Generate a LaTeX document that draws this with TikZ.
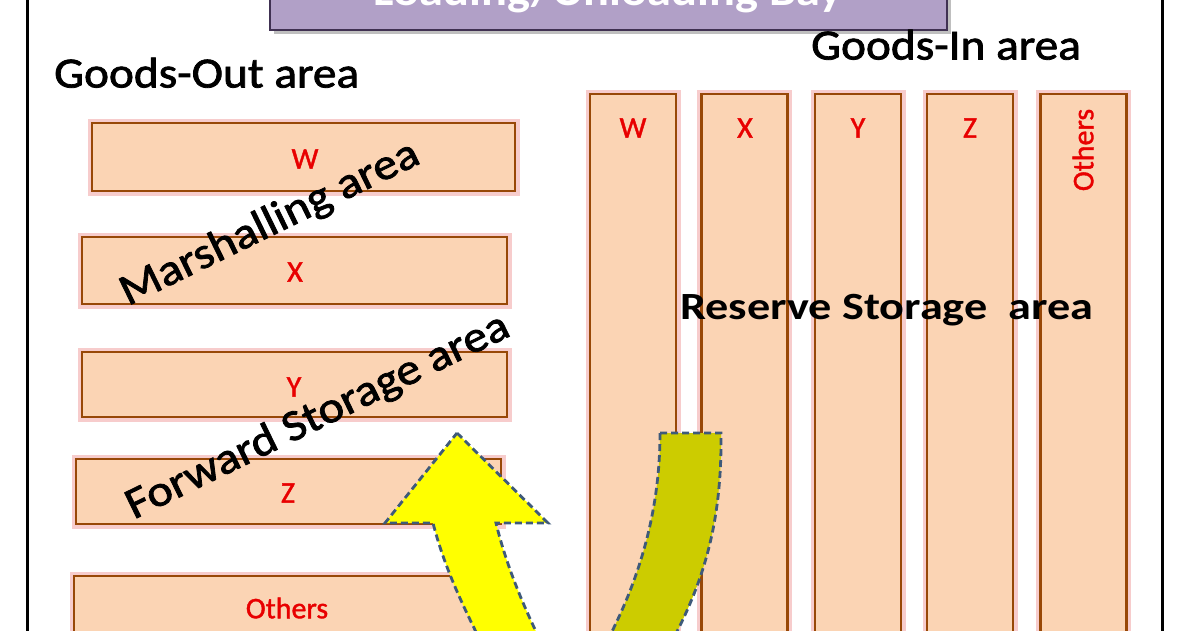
\documentclass[tikz,border=0pt]{standalone}
\usepackage{fontspec}
\setmainfont{Carlito}[FakeBold=1.3]
\newfontfamily\fA{Carlito}[FakeStretch=1.1, FakeBold=1.8]
\newfontfamily\fB{Carlito Bold}[FakeStretch=1.1]
\newfontfamily\fR{Carlito Bold}[FakeStretch=1.2]
\definecolor{peach}{HTML}{FBD4B4}
\definecolor{brownb}{HTML}{984807}
\definecolor{glowc}{HTML}{F09A9A}
\definecolor{lav}{HTML}{B1A0C7}
\definecolor{lavb}{HTML}{403152}
\definecolor{yel}{HTML}{FFFF00}
\definecolor{olivec}{HTML}{CCCC00}
\definecolor{dashc}{HTML}{3E5A7A}
\definecolor{redt}{HTML}{E80000}
\begin{document}
\begin{tikzpicture}[x=1pt,y=-1pt,
  box/.style={rectangle, draw=brownb, line width=2.7pt, fill=peach, inner sep=0pt,
    preaction={draw=glowc, line width=9pt, draw opacity=0.5}},
  lbl/.style={text=redt, font=\fontsize{30}{30}\selectfont, inner sep=0pt},
  big/.style={font=\fA\fontsize{43}{43}\selectfont, inner sep=0pt},
  arrowshape/.style={draw=dashc, line width=2.8pt, dash pattern=on 7pt off 4pt, line join=miter}]
\useasboundingbox (0,0) rectangle (1200,630);
\clip (0,0) rectangle (1200,630);
\fill[white] (0,0) rectangle (1200,630);
% frame
\draw[line width=3pt] (27,-10) -- (27,640);
\draw[line width=3pt] (1162.5,-10) -- (1162.5,640);
% loading bay
\fill[black, opacity=0.25] (274,-20) rectangle (951,34);
\node[draw=lavb, line width=2.5pt, fill=lav, minimum width=677pt, minimum height=60pt, inner sep=0pt] (bay) at (608.5,0) {};
\node[text=white, font=\fB\fontsize{44}{44}\selectfont, anchor=base, inner sep=0pt] (baytxt) at (608,5) {Loading/Unloading Bay};
% titles
\node[big, anchor=base west] (gout) at (54,87.5) {Goods-Out area};
\node[big, anchor=base west] (gin) at (811,59.5) {Goods-In area};
% goods-in columns
\foreach \n/\x in {cw/633, cx/744.5, cy/858, cz/970, co/1083.5}
  \node[box, minimum width=86pt, minimum height=551pt] (\n) at (\x,369.5) {};
\node[lbl] (cwl) at (633,128) {W};
\node[lbl] (cxl) at (745,128) {X};
\node[lbl] (cyl) at (858,128) {Y};
\node[lbl] (czl) at (970,128) {Z};
\node[lbl, rotate=90] (col) at (1083,150) {Others};
% goods-out boxes
\node[box, minimum width=423pt, minimum height=68pt] (gw) at (303.5,157) {};
\node[box, minimum width=425pt, minimum height=67pt] (gx) at (294.5,270.5) {};
\node[box, minimum width=425pt, minimum height=65pt] (gy) at (294.5,384.5) {};
\node[box, minimum width=425pt, minimum height=65pt] (gz) at (288.5,491.5) {};
\node[box, minimum width=424pt, minimum height=74pt] (go) at (286,613) {};
\node[lbl] (gwl) at (305,159) {W};
\node[lbl] (gxl) at (295,272) {X};
\node[lbl] (gyl) at (294,387) {Y};
\node[lbl] (gzl) at (288,493) {Z};
\node[lbl] (gol) at (287,608) {Others};
% arrows
\path[arrowshape, fill=olivec] (660,433) -- (721,433)
  .. controls (722,520) and (705,580) .. (670,645) -- (605,645)
  .. controls (645,570) and (660,500) .. (660,433) -- cycle;
\path[arrowshape, fill=yel] (457,433) -- (548,523) -- (496,523)
  .. controls (505,560) and (520,600) .. (545,650) -- (485,650)
  .. controls (465,610) and (445,570) .. (433,523) -- (385,523) -- cycle;
% area texts
\node[big, font=\fA\fontsize{44}{44}\selectfont, rotate=26] (marsh) at (270,224) {Marshalling area};
\node[big, font=\fA\fontsize{44}{44}\selectfont, rotate=26] (fwd) at (318,417) {Forward Storage area};
\node[font=\fR\fontsize{38.5}{38.5}\selectfont, anchor=base west, inner sep=0pt] (res) at (680,319) {Reserve Storage\ \ area};
\end{tikzpicture}
\end{document}
